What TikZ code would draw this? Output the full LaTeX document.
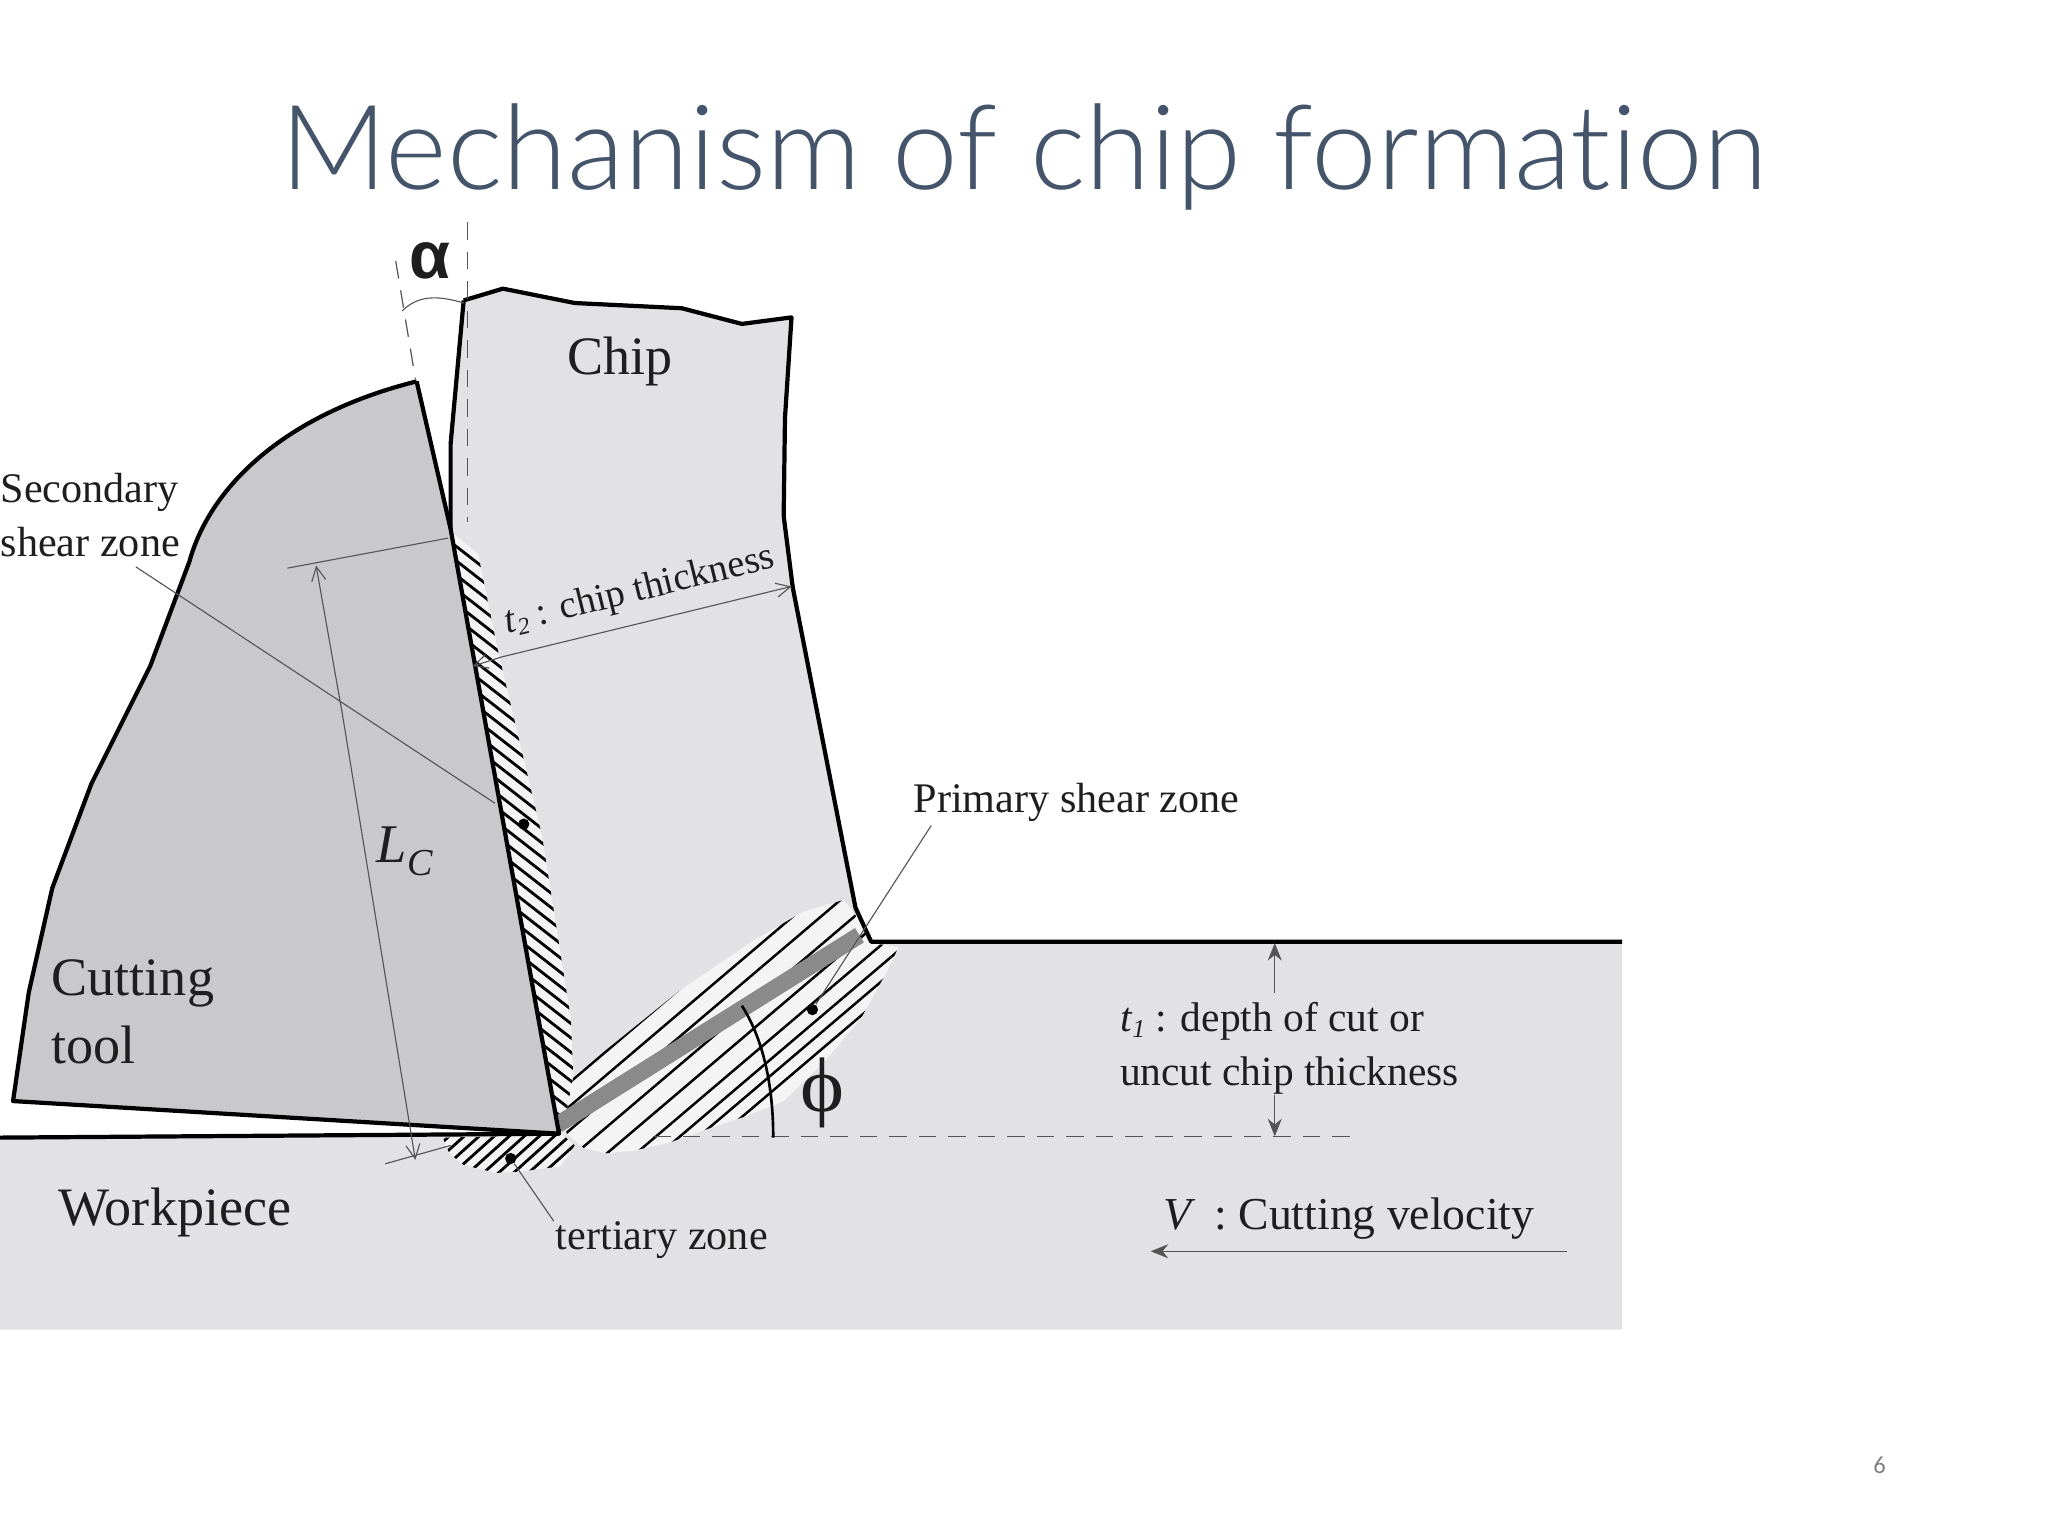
\documentclass[tikz,border=0pt]{standalone}
\usepackage{fontspec}
\usepackage{graphicx}
\setmainfont{Liberation Serif}
\newfontfamily\titlefont[Ligatures=NoCommon]{Lato Light}
\newfontfamily\pagefont{Carlito}
\newfontfamily\greekfont{Liberation Sans}
\usetikzlibrary{arrows.meta}
\definecolor{titlecol}{HTML}{44546A}
\definecolor{workcol}{HTML}{E2E2E4}
\definecolor{toolcol}{HTML}{C9C9CB}
\definecolor{bandcol}{HTML}{8A8A8A}
\definecolor{zonecol}{HTML}{F4F4F4}
\definecolor{inkcol}{HTML}{1E1E1E}
\definecolor{leadcol}{HTML}{555555}
\newcommand{\lowidx}[1]{\raisebox{-0.3ex}{\scalebox{.62}{\itshape #1}}}
\tikzset{
  x=0.01306cm,y=-0.01306cm,
  outline/.style={line width=1.2pt,draw=black,line join=round},
  thinlead/.style={line width=0.32pt,draw=leadcol},
  dashlead/.style={line width=0.35pt,draw=leadcol,dash pattern=on 5pt off 3.4pt},
  lbl/.style={inner sep=0pt,anchor=base west,text=inkcol},
  small/.style={lbl,font=\fontsize{12}{14}\selectfont},
  mid/.style={lbl,font=\fontsize{11.8}{14}\selectfont},
  vfont/.style={lbl,font=\fontsize{13}{15}\selectfont},
  big/.style={lbl,font=\fontsize{15.4}{18}\selectfont},
  openend/.style={-{Straight Barb[length=4pt,width=4pt]}},
  solidend/.style={-{Stealth[length=5pt,width=4pt]}},
  hatchline/.style={line width=0.7pt,draw=black},
  hatchheavy/.style={line width=0.8pt,draw=black},
  dotnode/.style={circle,fill=black,inner sep=0pt,minimum size=3.2pt}
}
\begin{document}
\begin{tikzpicture}
\useasboundingbox (0,0) rectangle (1568,1176);
\fill[white] (0,0) rectangle (1568,1176);
% workpiece
\fill[workcol] (0,871) -- (430,868) -- (665,721) -- (1242,721) -- (1242,1018) -- (0,1018) -- cycle;
% chip
\coordinate (chipA) at (355,230);
\coordinate (chipEnd) at (655,695);
\coordinate (corner) at (667,721);
\coordinate (surfEnd) at (1242,721);
\fill[workcol] (chipA) -- (385,221) -- (440,232) -- (522,236) -- (568,248) -- (606,243) -- (601,320) -- (600,395) -- (607,450) -- (chipEnd) -- (corner) -- (430,868) -- (345,405) -- (345,340) -- cycle;
% tool
\fill[toolcol] (319,292) -- (345,405) -- (428,868) -- (10,843) -- (22,760) -- (40,680) -- (70,600) -- (115,510) -- (145,430) .. controls (160,375) and (215,318) .. (319,292) -- cycle;
% secondary shear zone
\begin{scope}
\clip (344,406) -- (366,424) -- (381,497) -- (389,531) -- (415,640) -- (437,780) -- (440,850) -- (428,868) -- cycle;
\fill[zonecol] (330,400) rectangle (450,870);
\foreach \k in {-56,-45,...,480} {
  \draw[hatchheavy] (300,370+\k) -- (480,510+\k);
}
\end{scope}
% primary shear zone
\begin{scope}
\clip (439,824) -- (521,758) -- (577,720) -- (615,698) -- (646,689) -- (656,702) -- (667,722) -- (688,725) -- (680,742) -- (659,780) -- (631,813) -- (600,843) -- (570,855) -- (540,865) -- (512,875) -- (485,881) -- (464,883) -- (447,879) -- (434,868) -- (432,860) -- cycle;
\fill[zonecol] (420,680) rectangle (700,890);
\foreach \c in {1188.5,1206.7,1225,1246.7,1267,1286,1301.6,1314,1327} {
  \draw[hatchline] (400,\c-329) -- (720,\c-601);
}
\end{scope}
% shear plane
\coordinate (bandA) at (427,861);
\coordinate (bandB) at (658,716);
\draw[bandcol,line width=4.8pt] (bandA) -- (bandB);
% tertiary zone
\begin{scope}
\clip (339,871) -- (431,869) -- (440,877) -- (429,893) -- (398,897) -- (380,898) -- (355,892) -- (344,883) -- cycle;
\fill[zonecol] (330,860) rectangle (450,900);
\foreach \k in {1170,1181.5,...,1350} {
  \draw[hatchheavy] (\k-850,850) -- (\k-920,913);
}
\end{scope}
% thick outlines
\draw[outline] (chipA) -- (385,221) -- (440,232) -- (522,236) -- (568,248) -- (606,243) -- (601,320) -- (600,395) -- (607,450) -- (chipEnd) -- (corner) -- (surfEnd);
\draw[outline] (chipA) -- (345,340) -- (345,405);
\draw[outline] (319,292) -- (345,405) -- (428,868) -- (10,843) -- (22,760) -- (40,680) -- (70,600) -- (115,510) -- (145,430) .. controls (160,375) and (215,318) .. (319,292);
\draw[outline] (0,871) -- (428,868);
% dots
\node[dotnode] (dotS) at (401,631) {};
\node[dotnode] (dotP) at (622,773) {};
\node[dotnode] (dotT) at (391,887) {};
% dashed guides
\coordinate (alphaV1) at (358,170);
\coordinate (alphaV2) at (358,400);
\coordinate (alphaS1) at (303,200);
\coordinate (alphaS2) at (318,290);
\draw[dashlead] (alphaV1) -- (alphaV2);
\draw[dashlead] (alphaS1) -- (alphaS2);
\draw[thinlead] (308,238) .. controls (320,226) and (335,226) .. (355,232);
\coordinate (baseA) at (500,870);
\coordinate (baseB) at (1035,870);
\draw[dashlead] (baseA) -- (baseB);
% shear-angle arc
\coordinate (arcA) at (568,770);
\coordinate (arcB) at (592,871);
\draw[line width=0.75pt] (arcA) .. controls (584,795) and (592,830) .. (arcB);
% L_c dimension
\coordinate (lcTop) at (242,433);
\coordinate (lcBot) at (318,888);
\draw[thinlead,openend] (262,546) -- (lcTop);
\draw[thinlead,openend] (262,546) -- (lcBot);
\coordinate (extA1) at (220,435);
\coordinate (extA2) at (343,412);
\coordinate (extB1) at (295,891);
\coordinate (extB2) at (345,877);
\draw[thinlead] (extA1) -- (extA2);
\draw[thinlead] (extB1) -- (extB2);
% t2 dimension
\coordinate (ttA) at (362,510);
\coordinate (ttB) at (606,449);
\draw[thinlead,openend] (384,503) -- (ttA);
\draw[thinlead,openend] (384,503) -- (ttB);
% labels
\node[lbl,font=\greekfont\bfseries\fontsize{19}{20}\selectfont] (alpha) at (313,213) {α};
\node[big] (chip) at (434,287) {Chip};
\node[small] (sec1) at (0,385) {Secondary};
\node[small] (sec2) at (0,426) {shear zone};
\node[big] (cut1) at (39,762) {Cutting};
\node[big] (cut2) at (39,814) {tool};
\node[big] (work) at (44,938) {Workpiece};
\node[small] (tert) at (425,957) {tertiary zone};
\node[small] (prim) at (699,622) {Primary shear zone};
\node[lbl,font=\fontsize{15.5}{18}\selectfont\itshape] (lc) at (288,660) {L\raisebox{-0.55ex}{\scalebox{.7}{C}}};
\node[lbl,font=\fontsize{11}{13}\selectfont,rotate=13.8] (t2) at (388,485) {\textit{t}\lowidx{2} : chip thickness};
\node[mid] (t1a) at (857,790) {\textit{t}\lowidx{1} : depth of cut or};
\node[mid] (t1b) at (857,831) {uncut chip thickness};
\node[vfont] (vel) at (890,941) {\textit{V}\, : Cutting velocity};
\node[lbl,font=\fontsize{22}{24}\selectfont] (phi) at (612,851) {\scalebox{1.08}[1]{ϕ}};
% leaders
\coordinate (secFrom) at (104,434);
\coordinate (secTo) at (379,615);
\draw[thinlead] (secFrom) -- (secTo);
\coordinate (primFrom) at (713,632);
\draw[thinlead] (primFrom) -- (dotP);
\coordinate (tertFrom) at (424,935);
\draw[thinlead] (tertFrom) -- (dotT);
% t1 dimension
\coordinate (t1top) at (976,722);
\coordinate (t1mid) at (976,760);
\coordinate (t1low) at (976,838);
\coordinate (t1bot) at (976,870);
\draw[thinlead,solidend] (t1mid) -- (t1top);
\draw[thinlead,solidend] (t1low) -- (t1bot);
% velocity arrow
\coordinate (vA) at (1200,958);
\coordinate (vB) at (881,958);
\draw[thinlead,solidend] (vA) -- (vB);
% title and page number
\node[inner sep=0pt,anchor=base,text=titlecol,font=\titlefont\fontsize{33.55}{38}\selectfont] (title) at (784,145) {Mechanism of chip formation};
\node[inner sep=0pt,anchor=base,text=gray,font=\pagefont\fontsize{7}{8}\selectfont] (page) at (1439,1128) {6};
\end{tikzpicture}
\end{document}
